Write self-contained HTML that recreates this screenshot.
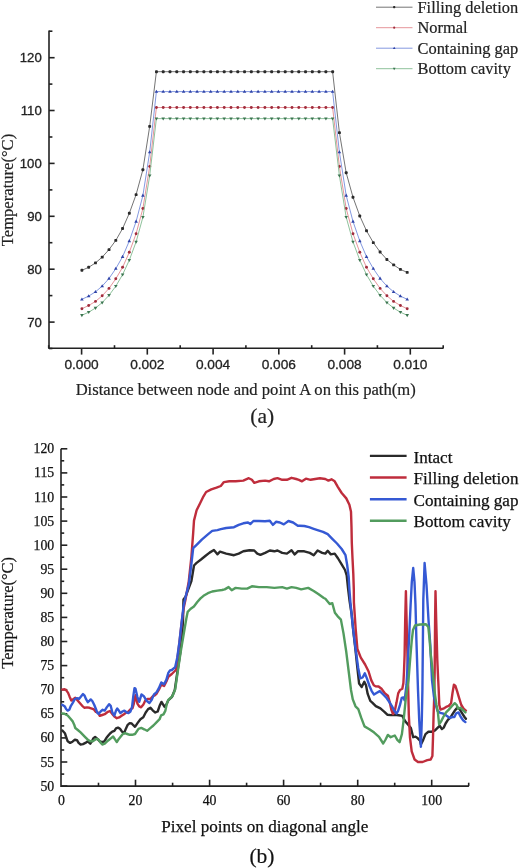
<!DOCTYPE html>
<html><head><meta charset="utf-8"><title>Temperature charts</title>
<style>
html,body{margin:0;padding:0;background:#fff;}
body{width:520px;height:868px;overflow:hidden;}
svg{display:block;}
</style></head>
<body>
<svg width="520" height="868" viewBox="0 0 520 868">
<rect width="520" height="868" fill="#fff"/>
<g stroke="#222" stroke-width="1.6" fill="none">
<path d="M49 30.5V348.2H443.5"/>
<path d="M49 322.1H54.6"/>
<path d="M49 269.2H54.6"/>
<path d="M49 216.3H54.6"/>
<path d="M49 163.4H54.6"/>
<path d="M49 110.5H54.6"/>
<path d="M49 57.7H54.6"/>
<path d="M49 348.5H52.4"/>
<path d="M49 295.6H52.4"/>
<path d="M49 242.7H52.4"/>
<path d="M49 189.9H52.4"/>
<path d="M49 137.0H52.4"/>
<path d="M49 84.1H52.4"/>
<path d="M49 31.2H52.4"/>
<path d="M81.6 348.2V354.6"/>
<path d="M147.3 348.2V354.6"/>
<path d="M213.1 348.2V354.6"/>
<path d="M278.8 348.2V354.6"/>
<path d="M344.6 348.2V354.6"/>
<path d="M410.3 348.2V354.6"/>
<path d="M48.7 348.2V345.2"/>
<path d="M114.5 348.2V345.2"/>
<path d="M180.2 348.2V345.2"/>
<path d="M245.9 348.2V345.2"/>
<path d="M311.7 348.2V345.2"/>
<path d="M377.4 348.2V345.2"/>
<path d="M443.2 348.2V345.2"/>
</g>
<g font-family="Liberation Sans, Arial, sans-serif" font-size="13.2" fill="#222" stroke="#222" stroke-width="0.3" text-anchor="end">
<text x="41.8" y="326.5">70</text>
<text x="41.8" y="273.6">80</text>
<text x="41.8" y="220.7">90</text>
<text x="41.8" y="167.8">100</text>
<text x="41.8" y="114.9">110</text>
<text x="41.8" y="62.1">120</text>
</g>
<g font-family="Liberation Sans, Arial, sans-serif" font-size="13.7" fill="#222" stroke="#222" stroke-width="0.3" text-anchor="middle">
<text x="81.6" y="369.4">0.000</text>
<text x="147.3" y="369.4">0.002</text>
<text x="213.1" y="369.4">0.004</text>
<text x="278.8" y="369.4">0.006</text>
<text x="344.6" y="369.4">0.008</text>
<text x="410.3" y="369.4">0.010</text>
</g>
<text x="245.7" y="394.6" font-family="Liberation Serif, Times New Roman, serif" font-size="16.6" fill="#222" stroke="#222" stroke-width="0.2" text-anchor="middle">Distance between node and point A on this path(m)</text>
<text x="262.2" y="423" font-family="Liberation Serif, Times New Roman, serif" font-size="21.5" fill="#222" stroke="#222" stroke-width="0.2" text-anchor="middle">(a)</text>
<text transform="translate(13,190) rotate(-90)" font-family="Liberation Serif, Times New Roman, serif" font-size="16.6" fill="#222" stroke="#222" stroke-width="0.2" text-anchor="middle">Temperature(°C)</text>
<polyline points="81.9,270.3 88.7,267.3 95.5,262.9 102.2,257.1 109.0,249.6 115.8,240.4 122.6,228.5 129.3,213.3 136.1,194.6 142.9,169.7 149.7,126.4 156.4,71.7 163.2,71.7 170.0,71.7 176.8,71.7 183.6,71.7 190.3,71.7 197.1,71.7 203.9,71.7 210.7,71.7 217.4,71.7 224.2,71.7 231.0,71.7 237.8,71.7 244.5,71.7 251.3,71.7 258.1,71.7 264.9,71.7 271.7,71.7 278.4,71.7 285.2,71.7 292.0,71.7 298.8,71.7 305.5,71.7 312.3,71.7 319.1,71.7 325.9,71.7 332.6,71.7 339.4,132.6 346.2,172.8 353.0,197.3 359.8,216.0 366.5,230.8 373.3,242.6 380.1,252.0 386.9,259.5 393.6,264.9 400.4,269.4 407.2,272.4" fill="none" stroke="#747474" stroke-width="1"/>
<rect x="80.45" y="268.85" width="2.9" height="2.9" rx="0.9" fill="#2a2a2a"/>
<rect x="87.23" y="265.85" width="2.9" height="2.9" rx="0.9" fill="#2a2a2a"/>
<rect x="94.00" y="261.45" width="2.9" height="2.9" rx="0.9" fill="#2a2a2a"/>
<rect x="100.78" y="255.65" width="2.9" height="2.9" rx="0.9" fill="#2a2a2a"/>
<rect x="107.56" y="248.15" width="2.9" height="2.9" rx="0.9" fill="#2a2a2a"/>
<rect x="114.33" y="238.95" width="2.9" height="2.9" rx="0.9" fill="#2a2a2a"/>
<rect x="121.11" y="227.05" width="2.9" height="2.9" rx="0.9" fill="#2a2a2a"/>
<rect x="127.89" y="211.85" width="2.9" height="2.9" rx="0.9" fill="#2a2a2a"/>
<rect x="134.67" y="193.15" width="2.9" height="2.9" rx="0.9" fill="#2a2a2a"/>
<rect x="141.44" y="168.25" width="2.9" height="2.9" rx="0.9" fill="#2a2a2a"/>
<rect x="148.22" y="124.95" width="2.9" height="2.9" rx="0.9" fill="#2a2a2a"/>
<rect x="155.00" y="70.25" width="2.9" height="2.9" rx="0.9" fill="#2a2a2a"/>
<rect x="161.77" y="70.25" width="2.9" height="2.9" rx="0.9" fill="#2a2a2a"/>
<rect x="168.55" y="70.25" width="2.9" height="2.9" rx="0.9" fill="#2a2a2a"/>
<rect x="175.33" y="70.25" width="2.9" height="2.9" rx="0.9" fill="#2a2a2a"/>
<rect x="182.11" y="70.25" width="2.9" height="2.9" rx="0.9" fill="#2a2a2a"/>
<rect x="188.88" y="70.25" width="2.9" height="2.9" rx="0.9" fill="#2a2a2a"/>
<rect x="195.66" y="70.25" width="2.9" height="2.9" rx="0.9" fill="#2a2a2a"/>
<rect x="202.44" y="70.25" width="2.9" height="2.9" rx="0.9" fill="#2a2a2a"/>
<rect x="209.21" y="70.25" width="2.9" height="2.9" rx="0.9" fill="#2a2a2a"/>
<rect x="215.99" y="70.25" width="2.9" height="2.9" rx="0.9" fill="#2a2a2a"/>
<rect x="222.77" y="70.25" width="2.9" height="2.9" rx="0.9" fill="#2a2a2a"/>
<rect x="229.54" y="70.25" width="2.9" height="2.9" rx="0.9" fill="#2a2a2a"/>
<rect x="236.32" y="70.25" width="2.9" height="2.9" rx="0.9" fill="#2a2a2a"/>
<rect x="243.10" y="70.25" width="2.9" height="2.9" rx="0.9" fill="#2a2a2a"/>
<rect x="249.88" y="70.25" width="2.9" height="2.9" rx="0.9" fill="#2a2a2a"/>
<rect x="256.65" y="70.25" width="2.9" height="2.9" rx="0.9" fill="#2a2a2a"/>
<rect x="263.43" y="70.25" width="2.9" height="2.9" rx="0.9" fill="#2a2a2a"/>
<rect x="270.21" y="70.25" width="2.9" height="2.9" rx="0.9" fill="#2a2a2a"/>
<rect x="276.98" y="70.25" width="2.9" height="2.9" rx="0.9" fill="#2a2a2a"/>
<rect x="283.76" y="70.25" width="2.9" height="2.9" rx="0.9" fill="#2a2a2a"/>
<rect x="290.54" y="70.25" width="2.9" height="2.9" rx="0.9" fill="#2a2a2a"/>
<rect x="297.31" y="70.25" width="2.9" height="2.9" rx="0.9" fill="#2a2a2a"/>
<rect x="304.09" y="70.25" width="2.9" height="2.9" rx="0.9" fill="#2a2a2a"/>
<rect x="310.87" y="70.25" width="2.9" height="2.9" rx="0.9" fill="#2a2a2a"/>
<rect x="317.65" y="70.25" width="2.9" height="2.9" rx="0.9" fill="#2a2a2a"/>
<rect x="324.42" y="70.25" width="2.9" height="2.9" rx="0.9" fill="#2a2a2a"/>
<rect x="331.20" y="70.25" width="2.9" height="2.9" rx="0.9" fill="#2a2a2a"/>
<rect x="337.98" y="131.15" width="2.9" height="2.9" rx="0.9" fill="#2a2a2a"/>
<rect x="344.75" y="171.35" width="2.9" height="2.9" rx="0.9" fill="#2a2a2a"/>
<rect x="351.53" y="195.85" width="2.9" height="2.9" rx="0.9" fill="#2a2a2a"/>
<rect x="358.31" y="214.55" width="2.9" height="2.9" rx="0.9" fill="#2a2a2a"/>
<rect x="365.08" y="229.35" width="2.9" height="2.9" rx="0.9" fill="#2a2a2a"/>
<rect x="371.86" y="241.15" width="2.9" height="2.9" rx="0.9" fill="#2a2a2a"/>
<rect x="378.64" y="250.55" width="2.9" height="2.9" rx="0.9" fill="#2a2a2a"/>
<rect x="385.42" y="258.05" width="2.9" height="2.9" rx="0.9" fill="#2a2a2a"/>
<rect x="392.19" y="263.45" width="2.9" height="2.9" rx="0.9" fill="#2a2a2a"/>
<rect x="398.97" y="267.95" width="2.9" height="2.9" rx="0.9" fill="#2a2a2a"/>
<rect x="405.75" y="270.95" width="2.9" height="2.9" rx="0.9" fill="#2a2a2a"/>
<polyline points="81.9,308.7 88.7,305.5 95.5,301.4 102.2,295.8 109.0,288.4 115.8,278.8 122.6,267.3 129.3,252.3 136.1,233.7 142.9,208.5 149.7,166.4 156.4,107.5 163.2,107.5 170.0,107.5 176.8,107.5 183.6,107.5 190.3,107.5 197.1,107.5 203.9,107.5 210.7,107.5 217.4,107.5 224.2,107.5 231.0,107.5 237.8,107.5 244.5,107.5 251.3,107.5 258.1,107.5 264.9,107.5 271.7,107.5 278.4,107.5 285.2,107.5 292.0,107.5 298.8,107.5 305.5,107.5 312.3,107.5 319.1,107.5 325.9,107.5 332.6,107.5 339.4,166.4 346.2,208.5 353.0,233.7 359.8,252.3 366.5,267.3 373.3,278.8 380.1,288.4 386.9,295.8 393.6,301.4 400.4,305.5 407.2,308.7" fill="none" stroke="#e6959b" stroke-width="1"/>
<circle cx="81.9" cy="308.7" r="1.45" fill="#a02c3c"/>
<circle cx="88.7" cy="305.5" r="1.45" fill="#a02c3c"/>
<circle cx="95.5" cy="301.4" r="1.45" fill="#a02c3c"/>
<circle cx="102.2" cy="295.8" r="1.45" fill="#a02c3c"/>
<circle cx="109.0" cy="288.4" r="1.45" fill="#a02c3c"/>
<circle cx="115.8" cy="278.8" r="1.45" fill="#a02c3c"/>
<circle cx="122.6" cy="267.3" r="1.45" fill="#a02c3c"/>
<circle cx="129.3" cy="252.3" r="1.45" fill="#a02c3c"/>
<circle cx="136.1" cy="233.7" r="1.45" fill="#a02c3c"/>
<circle cx="142.9" cy="208.5" r="1.45" fill="#a02c3c"/>
<circle cx="149.7" cy="166.4" r="1.45" fill="#a02c3c"/>
<circle cx="156.4" cy="107.5" r="1.45" fill="#a02c3c"/>
<circle cx="163.2" cy="107.5" r="1.45" fill="#a02c3c"/>
<circle cx="170.0" cy="107.5" r="1.45" fill="#a02c3c"/>
<circle cx="176.8" cy="107.5" r="1.45" fill="#a02c3c"/>
<circle cx="183.6" cy="107.5" r="1.45" fill="#a02c3c"/>
<circle cx="190.3" cy="107.5" r="1.45" fill="#a02c3c"/>
<circle cx="197.1" cy="107.5" r="1.45" fill="#a02c3c"/>
<circle cx="203.9" cy="107.5" r="1.45" fill="#a02c3c"/>
<circle cx="210.7" cy="107.5" r="1.45" fill="#a02c3c"/>
<circle cx="217.4" cy="107.5" r="1.45" fill="#a02c3c"/>
<circle cx="224.2" cy="107.5" r="1.45" fill="#a02c3c"/>
<circle cx="231.0" cy="107.5" r="1.45" fill="#a02c3c"/>
<circle cx="237.8" cy="107.5" r="1.45" fill="#a02c3c"/>
<circle cx="244.5" cy="107.5" r="1.45" fill="#a02c3c"/>
<circle cx="251.3" cy="107.5" r="1.45" fill="#a02c3c"/>
<circle cx="258.1" cy="107.5" r="1.45" fill="#a02c3c"/>
<circle cx="264.9" cy="107.5" r="1.45" fill="#a02c3c"/>
<circle cx="271.7" cy="107.5" r="1.45" fill="#a02c3c"/>
<circle cx="278.4" cy="107.5" r="1.45" fill="#a02c3c"/>
<circle cx="285.2" cy="107.5" r="1.45" fill="#a02c3c"/>
<circle cx="292.0" cy="107.5" r="1.45" fill="#a02c3c"/>
<circle cx="298.8" cy="107.5" r="1.45" fill="#a02c3c"/>
<circle cx="305.5" cy="107.5" r="1.45" fill="#a02c3c"/>
<circle cx="312.3" cy="107.5" r="1.45" fill="#a02c3c"/>
<circle cx="319.1" cy="107.5" r="1.45" fill="#a02c3c"/>
<circle cx="325.9" cy="107.5" r="1.45" fill="#a02c3c"/>
<circle cx="332.6" cy="107.5" r="1.45" fill="#a02c3c"/>
<circle cx="339.4" cy="166.4" r="1.45" fill="#a02c3c"/>
<circle cx="346.2" cy="208.5" r="1.45" fill="#a02c3c"/>
<circle cx="353.0" cy="233.7" r="1.45" fill="#a02c3c"/>
<circle cx="359.8" cy="252.3" r="1.45" fill="#a02c3c"/>
<circle cx="366.5" cy="267.3" r="1.45" fill="#a02c3c"/>
<circle cx="373.3" cy="278.8" r="1.45" fill="#a02c3c"/>
<circle cx="380.1" cy="288.4" r="1.45" fill="#a02c3c"/>
<circle cx="386.9" cy="295.8" r="1.45" fill="#a02c3c"/>
<circle cx="393.6" cy="301.4" r="1.45" fill="#a02c3c"/>
<circle cx="400.4" cy="305.5" r="1.45" fill="#a02c3c"/>
<circle cx="407.2" cy="308.7" r="1.45" fill="#a02c3c"/>
<polyline points="81.9,299.3 88.7,296.1 95.5,291.8 102.2,286.1 109.0,278.5 115.8,268.6 122.6,256.7 129.3,241.0 136.1,221.5 142.9,195.5 149.7,152.1 156.4,91.6 163.2,91.6 170.0,91.6 176.8,91.6 183.6,91.6 190.3,91.6 197.1,91.6 203.9,91.6 210.7,91.6 217.4,91.6 224.2,91.6 231.0,91.6 237.8,91.6 244.5,91.6 251.3,91.6 258.1,91.6 264.9,91.6 271.7,91.6 278.4,91.6 285.2,91.6 292.0,91.6 298.8,91.6 305.5,91.6 312.3,91.6 319.1,91.6 325.9,91.6 332.6,91.6 339.4,152.1 346.2,195.5 353.0,221.5 359.8,241.0 366.5,256.7 373.3,268.6 380.1,278.5 386.9,286.1 393.6,291.8 400.4,296.1 407.2,299.3" fill="none" stroke="#8499e0" stroke-width="1"/>
<path d="M81.9 297.4L83.7 300.5L80.1 300.5Z" fill="#3044a8"/>
<path d="M88.7 294.2L90.5 297.3L86.9 297.3Z" fill="#3044a8"/>
<path d="M95.5 289.9L97.3 293.0L93.7 293.0Z" fill="#3044a8"/>
<path d="M102.2 284.2L104.0 287.3L100.4 287.3Z" fill="#3044a8"/>
<path d="M109.0 276.6L110.8 279.7L107.2 279.7Z" fill="#3044a8"/>
<path d="M115.8 266.7L117.6 269.8L114.0 269.8Z" fill="#3044a8"/>
<path d="M122.6 254.8L124.4 257.9L120.8 257.9Z" fill="#3044a8"/>
<path d="M129.3 239.1L131.1 242.2L127.5 242.2Z" fill="#3044a8"/>
<path d="M136.1 219.6L137.9 222.7L134.3 222.7Z" fill="#3044a8"/>
<path d="M142.9 193.6L144.7 196.7L141.1 196.7Z" fill="#3044a8"/>
<path d="M149.7 150.2L151.5 153.3L147.9 153.3Z" fill="#3044a8"/>
<path d="M156.4 89.7L158.2 92.8L154.6 92.8Z" fill="#3044a8"/>
<path d="M163.2 89.7L165.0 92.8L161.4 92.8Z" fill="#3044a8"/>
<path d="M170.0 89.7L171.8 92.8L168.2 92.8Z" fill="#3044a8"/>
<path d="M176.8 89.7L178.6 92.8L175.0 92.8Z" fill="#3044a8"/>
<path d="M183.6 89.7L185.4 92.8L181.8 92.8Z" fill="#3044a8"/>
<path d="M190.3 89.7L192.1 92.8L188.5 92.8Z" fill="#3044a8"/>
<path d="M197.1 89.7L198.9 92.8L195.3 92.8Z" fill="#3044a8"/>
<path d="M203.9 89.7L205.7 92.8L202.1 92.8Z" fill="#3044a8"/>
<path d="M210.7 89.7L212.5 92.8L208.9 92.8Z" fill="#3044a8"/>
<path d="M217.4 89.7L219.2 92.8L215.6 92.8Z" fill="#3044a8"/>
<path d="M224.2 89.7L226.0 92.8L222.4 92.8Z" fill="#3044a8"/>
<path d="M231.0 89.7L232.8 92.8L229.2 92.8Z" fill="#3044a8"/>
<path d="M237.8 89.7L239.6 92.8L236.0 92.8Z" fill="#3044a8"/>
<path d="M244.5 89.7L246.3 92.8L242.7 92.8Z" fill="#3044a8"/>
<path d="M251.3 89.7L253.1 92.8L249.5 92.8Z" fill="#3044a8"/>
<path d="M258.1 89.7L259.9 92.8L256.3 92.8Z" fill="#3044a8"/>
<path d="M264.9 89.7L266.7 92.8L263.1 92.8Z" fill="#3044a8"/>
<path d="M271.7 89.7L273.5 92.8L269.9 92.8Z" fill="#3044a8"/>
<path d="M278.4 89.7L280.2 92.8L276.6 92.8Z" fill="#3044a8"/>
<path d="M285.2 89.7L287.0 92.8L283.4 92.8Z" fill="#3044a8"/>
<path d="M292.0 89.7L293.8 92.8L290.2 92.8Z" fill="#3044a8"/>
<path d="M298.8 89.7L300.6 92.8L297.0 92.8Z" fill="#3044a8"/>
<path d="M305.5 89.7L307.3 92.8L303.7 92.8Z" fill="#3044a8"/>
<path d="M312.3 89.7L314.1 92.8L310.5 92.8Z" fill="#3044a8"/>
<path d="M319.1 89.7L320.9 92.8L317.3 92.8Z" fill="#3044a8"/>
<path d="M325.9 89.7L327.7 92.8L324.1 92.8Z" fill="#3044a8"/>
<path d="M332.6 89.7L334.4 92.8L330.8 92.8Z" fill="#3044a8"/>
<path d="M339.4 150.2L341.2 153.3L337.6 153.3Z" fill="#3044a8"/>
<path d="M346.2 193.6L348.0 196.7L344.4 196.7Z" fill="#3044a8"/>
<path d="M353.0 219.6L354.8 222.7L351.2 222.7Z" fill="#3044a8"/>
<path d="M359.8 239.1L361.6 242.2L358.0 242.2Z" fill="#3044a8"/>
<path d="M366.5 254.8L368.3 257.9L364.7 257.9Z" fill="#3044a8"/>
<path d="M373.3 266.7L375.1 269.8L371.5 269.8Z" fill="#3044a8"/>
<path d="M380.1 276.6L381.9 279.7L378.3 279.7Z" fill="#3044a8"/>
<path d="M386.9 284.2L388.7 287.3L385.1 287.3Z" fill="#3044a8"/>
<path d="M393.6 289.9L395.4 293.0L391.8 293.0Z" fill="#3044a8"/>
<path d="M400.4 294.2L402.2 297.3L398.6 297.3Z" fill="#3044a8"/>
<path d="M407.2 297.4L409.0 300.5L405.4 300.5Z" fill="#3044a8"/>
<polyline points="81.9,315.3 88.7,312.2 95.5,308.0 102.2,302.6 109.0,295.3 115.8,286.2 122.6,274.6 129.3,260.2 136.1,241.9 142.9,217.2 149.7,175.7 156.4,118.6 163.2,118.6 170.0,118.6 176.8,118.6 183.6,118.6 190.3,118.6 197.1,118.6 203.9,118.6 210.7,118.6 217.4,118.6 224.2,118.6 231.0,118.6 237.8,118.6 244.5,118.6 251.3,118.6 258.1,118.6 264.9,118.6 271.7,118.6 278.4,118.6 285.2,118.6 292.0,118.6 298.8,118.6 305.5,118.6 312.3,118.6 319.1,118.6 325.9,118.6 332.6,118.6 339.4,175.7 346.2,217.2 353.0,241.9 359.8,260.2 366.5,274.6 373.3,286.2 380.1,295.3 386.9,302.6 393.6,308.0 400.4,312.2 407.2,315.3" fill="none" stroke="#8fc29c" stroke-width="1"/>
<path d="M81.9 317.2L83.7 314.1L80.1 314.1Z" fill="#3b7550"/>
<path d="M88.7 314.1L90.5 311.0L86.9 311.0Z" fill="#3b7550"/>
<path d="M95.5 309.9L97.3 306.8L93.7 306.8Z" fill="#3b7550"/>
<path d="M102.2 304.5L104.0 301.4L100.4 301.4Z" fill="#3b7550"/>
<path d="M109.0 297.2L110.8 294.1L107.2 294.1Z" fill="#3b7550"/>
<path d="M115.8 288.1L117.6 285.0L114.0 285.0Z" fill="#3b7550"/>
<path d="M122.6 276.5L124.4 273.4L120.8 273.4Z" fill="#3b7550"/>
<path d="M129.3 262.1L131.1 259.0L127.5 259.0Z" fill="#3b7550"/>
<path d="M136.1 243.8L137.9 240.7L134.3 240.7Z" fill="#3b7550"/>
<path d="M142.9 219.1L144.7 216.0L141.1 216.0Z" fill="#3b7550"/>
<path d="M149.7 177.6L151.5 174.5L147.9 174.5Z" fill="#3b7550"/>
<path d="M156.4 120.5L158.2 117.4L154.6 117.4Z" fill="#3b7550"/>
<path d="M163.2 120.5L165.0 117.4L161.4 117.4Z" fill="#3b7550"/>
<path d="M170.0 120.5L171.8 117.4L168.2 117.4Z" fill="#3b7550"/>
<path d="M176.8 120.5L178.6 117.4L175.0 117.4Z" fill="#3b7550"/>
<path d="M183.6 120.5L185.4 117.4L181.8 117.4Z" fill="#3b7550"/>
<path d="M190.3 120.5L192.1 117.4L188.5 117.4Z" fill="#3b7550"/>
<path d="M197.1 120.5L198.9 117.4L195.3 117.4Z" fill="#3b7550"/>
<path d="M203.9 120.5L205.7 117.4L202.1 117.4Z" fill="#3b7550"/>
<path d="M210.7 120.5L212.5 117.4L208.9 117.4Z" fill="#3b7550"/>
<path d="M217.4 120.5L219.2 117.4L215.6 117.4Z" fill="#3b7550"/>
<path d="M224.2 120.5L226.0 117.4L222.4 117.4Z" fill="#3b7550"/>
<path d="M231.0 120.5L232.8 117.4L229.2 117.4Z" fill="#3b7550"/>
<path d="M237.8 120.5L239.6 117.4L236.0 117.4Z" fill="#3b7550"/>
<path d="M244.5 120.5L246.3 117.4L242.7 117.4Z" fill="#3b7550"/>
<path d="M251.3 120.5L253.1 117.4L249.5 117.4Z" fill="#3b7550"/>
<path d="M258.1 120.5L259.9 117.4L256.3 117.4Z" fill="#3b7550"/>
<path d="M264.9 120.5L266.7 117.4L263.1 117.4Z" fill="#3b7550"/>
<path d="M271.7 120.5L273.5 117.4L269.9 117.4Z" fill="#3b7550"/>
<path d="M278.4 120.5L280.2 117.4L276.6 117.4Z" fill="#3b7550"/>
<path d="M285.2 120.5L287.0 117.4L283.4 117.4Z" fill="#3b7550"/>
<path d="M292.0 120.5L293.8 117.4L290.2 117.4Z" fill="#3b7550"/>
<path d="M298.8 120.5L300.6 117.4L297.0 117.4Z" fill="#3b7550"/>
<path d="M305.5 120.5L307.3 117.4L303.7 117.4Z" fill="#3b7550"/>
<path d="M312.3 120.5L314.1 117.4L310.5 117.4Z" fill="#3b7550"/>
<path d="M319.1 120.5L320.9 117.4L317.3 117.4Z" fill="#3b7550"/>
<path d="M325.9 120.5L327.7 117.4L324.1 117.4Z" fill="#3b7550"/>
<path d="M332.6 120.5L334.4 117.4L330.8 117.4Z" fill="#3b7550"/>
<path d="M339.4 177.6L341.2 174.5L337.6 174.5Z" fill="#3b7550"/>
<path d="M346.2 219.1L348.0 216.0L344.4 216.0Z" fill="#3b7550"/>
<path d="M353.0 243.8L354.8 240.7L351.2 240.7Z" fill="#3b7550"/>
<path d="M359.8 262.1L361.6 259.0L358.0 259.0Z" fill="#3b7550"/>
<path d="M366.5 276.5L368.3 273.4L364.7 273.4Z" fill="#3b7550"/>
<path d="M373.3 288.1L375.1 285.0L371.5 285.0Z" fill="#3b7550"/>
<path d="M380.1 297.2L381.9 294.1L378.3 294.1Z" fill="#3b7550"/>
<path d="M386.9 304.5L388.7 301.4L385.1 301.4Z" fill="#3b7550"/>
<path d="M393.6 309.9L395.4 306.8L391.8 306.8Z" fill="#3b7550"/>
<path d="M400.4 314.1L402.2 311.0L398.6 311.0Z" fill="#3b7550"/>
<path d="M407.2 317.2L409.0 314.1L405.4 314.1Z" fill="#3b7550"/>
<path d="M376 7.2H412.5" stroke="#747474" stroke-width="1"/>
<g transform="translate(394.2,7.2) scale(0.75) translate(-394.2,-7.2)"><rect x="392.75" y="5.75" width="2.9" height="2.9" rx="0.9" fill="#2a2a2a"/></g>
<text x="417.5" y="12.5" font-family="Liberation Serif, Times New Roman, serif" font-size="16.4" fill="#222" stroke="#222" stroke-width="0.2">Filling deletion</text>
<path d="M376 27.7H412.5" stroke="#e6959b" stroke-width="1"/>
<g transform="translate(394.2,27.7) scale(0.75) translate(-394.2,-27.7)"><circle cx="394.2" cy="27.7" r="1.45" fill="#a02c3c"/></g>
<text x="417.5" y="33.0" font-family="Liberation Serif, Times New Roman, serif" font-size="16.4" fill="#222" stroke="#222" stroke-width="0.2">Normal</text>
<path d="M376 48.2H412.5" stroke="#8499e0" stroke-width="1"/>
<g transform="translate(394.2,48.2) scale(0.75) translate(-394.2,-48.2)"><path d="M394.2 46.3L396.0 49.4L392.4 49.4Z" fill="#3044a8"/></g>
<text x="417.5" y="53.5" font-family="Liberation Serif, Times New Roman, serif" font-size="16.4" fill="#222" stroke="#222" stroke-width="0.2">Containing gap</text>
<path d="M376 68.7H412.5" stroke="#8fc29c" stroke-width="1"/>
<g transform="translate(394.2,68.7) scale(0.75) translate(-394.2,-68.7)"><path d="M394.2 70.6L396.0 67.5L392.4 67.5Z" fill="#3b7550"/></g>
<text x="417.5" y="74.0" font-family="Liberation Serif, Times New Roman, serif" font-size="16.4" fill="#222" stroke="#222" stroke-width="0.2">Bottom cavity</text>
<g stroke="#222" stroke-width="1.6" fill="none">
<path d="M61 448.8V786.1H468.9"/>
<path d="M61 786.1H67.3"/>
<path d="M61 762.0H67.3"/>
<path d="M61 737.9H67.3"/>
<path d="M61 713.8H67.3"/>
<path d="M61 689.7H67.3"/>
<path d="M61 665.6H67.3"/>
<path d="M61 641.5H67.3"/>
<path d="M61 617.4H67.3"/>
<path d="M61 593.3H67.3"/>
<path d="M61 569.2H67.3"/>
<path d="M61 545.2H67.3"/>
<path d="M61 521.1H67.3"/>
<path d="M61 497.0H67.3"/>
<path d="M61 472.9H67.3"/>
<path d="M61 448.8H67.3"/>
<path d="M61 774.1H64.2"/>
<path d="M61 750.0H64.2"/>
<path d="M61 725.9H64.2"/>
<path d="M61 701.8H64.2"/>
<path d="M61 677.7H64.2"/>
<path d="M61 653.6H64.2"/>
<path d="M61 629.5H64.2"/>
<path d="M61 605.4H64.2"/>
<path d="M61 581.3H64.2"/>
<path d="M61 557.2H64.2"/>
<path d="M61 533.1H64.2"/>
<path d="M61 509.0H64.2"/>
<path d="M61 484.9H64.2"/>
<path d="M61 460.8H64.2"/>
<path d="M135.5 786.1V779.7"/>
<path d="M209.6 786.1V779.7"/>
<path d="M283.6 786.1V779.7"/>
<path d="M357.7 786.1V779.7"/>
<path d="M431.7 786.1V779.7"/>
<path d="M98.5 786.1V782.7"/>
<path d="M172.6 786.1V782.7"/>
<path d="M246.6 786.1V782.7"/>
<path d="M320.6 786.1V782.7"/>
<path d="M394.7 786.1V782.7"/>
<path d="M468.7 786.1V782.7"/>
</g>
<g font-family="Liberation Serif, Times New Roman, serif" font-size="13.8" fill="#111" stroke="#111" stroke-width="0.25" text-anchor="end">
<text x="54.2" y="790.6">50</text>
<text x="54.2" y="766.5">55</text>
<text x="54.2" y="742.4">60</text>
<text x="54.2" y="718.3">65</text>
<text x="54.2" y="694.2">70</text>
<text x="54.2" y="670.1">75</text>
<text x="54.2" y="646.0">80</text>
<text x="54.2" y="621.9">85</text>
<text x="54.2" y="597.8">90</text>
<text x="54.2" y="573.7">95</text>
<text x="54.2" y="549.7">100</text>
<text x="54.2" y="525.6">105</text>
<text x="54.2" y="501.5">110</text>
<text x="54.2" y="477.4">115</text>
<text x="54.2" y="453.3">120</text>
</g>
<g font-family="Liberation Serif, Times New Roman, serif" font-size="13.8" fill="#111" stroke="#111" stroke-width="0.25" text-anchor="middle">
<text x="61.5" y="804.5">0</text>
<text x="135.5" y="804.5">20</text>
<text x="209.6" y="804.5">40</text>
<text x="283.6" y="804.5">60</text>
<text x="357.7" y="804.5">80</text>
<text x="431.7" y="804.5">100</text>
</g>
<text x="264.8" y="832.4" font-family="Liberation Serif, Times New Roman, serif" font-size="17.1" fill="#111" stroke="#111" stroke-width="0.25" text-anchor="middle">Pixel points on diagonal angle</text>
<text x="262" y="862.6" font-family="Liberation Serif, Times New Roman, serif" font-size="21.5" fill="#111" stroke="#111" stroke-width="0.2" text-anchor="middle">(b)</text>
<text transform="translate(13,612.8) rotate(-90)" font-family="Liberation Serif, Times New Roman, serif" font-size="16.5" fill="#111" stroke="#111" stroke-width="0.2" text-anchor="middle">Temperature(°C)</text>
<polyline points="62.4,730.5 64.9,733.2 65.7,735.6 66.5,738.1 67.7,741.3 70.1,742.9 72.5,741.7 74.9,739.7 77.0,740.1 78.6,742.9 80.6,744.5 83.0,744.1 85.4,742.9 87.8,741.3 90.3,743.7 91.9,741.3 93.5,738.1 95.1,736.9 97.4,738.9 99.8,741.3 102.3,742.1 104.3,741.3 106.3,738.1 108.3,735.6 110.3,733.2 112.3,731.6 114.4,730.8 116.0,728.4 118.0,727.6 120.0,728.8 122.0,731.6 124.0,733.2 126.0,728.4 127.7,724.8 129.7,723.1 131.7,723.5 133.3,725.2 135.0,726.8 137.5,723.1 140.4,719.2 143.3,717.3 145.7,712.5 148.1,709.1 150.5,707.7 152.9,710.6 155.3,712.5 157.7,711.5 159.6,705.8 161.5,701.9 164.4,706.7 166.4,704.5 168.2,700.5 172.0,696.8 174.8,690.0 177.6,670.5 180.3,652.5 182.1,636.0 183.0,620.0 183.3,607.7 183.5,599.4 185.6,596.6 188.0,590.0 191.4,581.1 194.0,565.5 196.6,562.9 201.0,559.5 205.3,556.0 209.6,552.6 213.9,550.0 217.4,554.3 220.0,551.7 226.2,553.6 234.0,555.2 238.7,553.6 243.3,551.3 249.5,550.2 254.2,550.5 257.3,553.6 260.4,554.9 265.1,552.9 269.8,550.5 274.4,551.3 277.5,550.5 282.2,552.9 286.9,553.6 291.5,550.2 294.7,554.4 297.8,551.3 304.3,551.3 309.8,552.9 313.7,555.2 317.6,550.5 322.2,552.9 325.3,553.6 327.7,550.8 330.8,554.4 334.7,553.6 338.1,558.5 341.5,564.2 345.0,570.0 346.7,575.5 348.0,588.0 349.6,601.0 351.6,614.0 353.4,632.0 355.4,649.0 357.4,668.0 359.1,683.6 361.7,687.0 364.3,681.8 366.0,685.3 367.7,693.9 370.3,700.9 372.3,702.6 375.8,706.1 380.4,708.4 384.4,711.8 387.3,714.7 390.7,715.1 394.8,714.7 398.8,715.3 402.3,715.9 405.1,721.1 408.0,724.5 410.9,728.0 413.2,737.2 415.5,736.6 417.8,738.3 420.0,740.6 420.9,744.5 423.2,739.9 425.5,734.1 428.4,731.8 431.9,731.8 435.0,730.4 437.3,728.1 439.6,725.8 441.9,729.0 443.8,727.6 445.6,723.5 447.9,719.8 450.2,717.9 452.5,714.2 454.8,710.6 457.6,707.3 459.9,709.6 462.2,713.3 464.5,717.0 465.9,718.8" fill="none" stroke="#2a2a2a" stroke-width="2.4" stroke-linejoin="round" stroke-linecap="round"/>
<polyline points="62.2,689.6 64.5,689.2 66.1,690.1 68.1,692.9 69.7,696.9 71.3,700.6 72.9,699.4 75.3,697.7 77.4,700.2 79.8,703.0 82.2,705.8 84.6,707.8 87.0,707.4 89.5,707.8 91.9,708.6 93.9,709.4 95.9,711.9 98.0,712.6 99.8,715.8 102.3,715.0 104.7,714.2 107.9,711.8 109.9,711.0 111.9,713.4 114.4,716.6 116.8,718.2 119.2,717.4 121.6,715.8 124.0,714.2 126.0,712.6 128.1,711.8 130.5,709.3 132.5,708.2 133.7,704.2 135.5,695.3 137.4,703.6 139.2,706.4 141.1,707.3 143.4,704.5 145.2,700.8 147.5,699.0 150.3,699.0 153.0,696.2 154.5,695.5 156.7,693.5 159.0,689.5 161.3,684.5 164.1,686.0 166.4,681.5 168.3,676.8 171.8,674.0 175.9,670.0 177.5,658.0 179.4,643.0 181.4,625.0 183.5,609.0 185.4,600.0 188.8,581.1 191.4,556.9 193.2,532.7 194.0,520.6 196.6,510.2 200.1,503.3 203.5,496.3 206.1,492.0 211.3,489.4 216.5,487.7 220.8,486.0 223.9,482.1 229.3,481.3 235.6,481.3 243.3,480.6 248.8,478.2 251.9,479.8 254.2,482.9 258.9,481.3 265.1,480.6 269.0,481.3 273.7,479.0 277.5,478.2 282.2,479.8 286.9,479.8 291.5,477.8 296.2,479.0 298.9,479.8 302.0,481.3 305.9,478.7 310.6,479.8 315.2,479.0 319.9,478.2 325.3,479.0 328.4,480.6 331.5,479.3 334.7,481.3 337.8,486.8 341.7,493.0 346.3,498.4 349.4,504.7 351.0,511.7 351.5,527.2 351.8,542.8 352.5,558.3 353.3,573.9 353.8,589.4 353.9,602.3 355.6,628.2 357.4,649.0 360.8,657.6 365.1,664.5 368.6,671.5 371.2,680.1 373.8,685.3 375.5,686.2 378.6,686.5 381.5,688.8 385.0,693.4 387.9,695.7 389.6,701.5 391.3,709.5 393.0,714.1 394.8,710.7 396.5,702.6 398.2,693.4 400.0,690.0 402.3,688.8 403.4,683.0 404.0,671.5 404.6,655.0 405.2,620.0 405.9,591.2 406.6,620.0 407.3,650.0 408.0,680.0 408.8,714.6 410.0,737.6 411.7,751.4 414.6,759.5 418.0,762.0 422.6,762.0 427.3,760.1 430.7,759.5 432.4,756.0 433.0,737.6 433.6,714.6 434.2,697.3 434.7,670.0 435.1,620.0 435.5,591.2 436.2,620.0 437.3,660.0 438.2,680.0 438.7,690.0 439.3,705.0 440.5,709.6 443.3,708.7 446.1,706.9 448.8,705.9 451.1,703.2 452.5,693.0 453.9,684.7 455.3,685.7 457.1,691.2 459.0,697.6 461.3,705.0 463.6,708.7 465.9,710.6" fill="none" stroke="#bf2d3c" stroke-width="2.4" stroke-linejoin="round" stroke-linecap="round"/>
<polyline points="62.2,704.8 64.9,706.6 66.1,709.0 67.7,710.6 69.3,709.8 70.9,705.8 72.9,702.6 74.9,699.0 77.0,698.1 79.0,699.0 81.0,696.5 83.0,694.1 84.6,695.7 86.2,699.4 87.8,702.2 89.5,700.6 90.7,699.4 92.3,701.0 94.3,705.0 95.9,709.0 97.5,713.1 98.6,713.9 100.6,711.5 102.7,709.8 104.7,710.6 106.7,707.4 109.1,704.2 110.7,705.8 112.3,712.3 114.4,715.5 116.0,710.6 117.2,708.6 118.8,710.6 120.4,713.1 122.4,711.5 124.4,710.6 126.5,712.3 128.5,713.1 130.5,711.5 132.1,706.6 133.3,696.1 134.5,688.1 135.5,688.8 137.4,697.1 139.2,701.8 141.5,694.4 143.8,696.2 146.6,700.8 149.4,703.1 151.7,699.9 154.0,694.4 156.7,692.1 159.0,687.9 161.3,682.4 164.1,684.2 166.4,679.6 168.2,673.2 170.0,670.4 171.8,670.0 175.2,667.1 177.3,657.5 179.4,642.2 181.4,624.3 183.5,606.3 186.3,594.0 188.8,584.6 191.4,563.8 193.2,548.2 196.6,544.8 201.8,539.6 207.9,534.4 212.2,530.9 217.4,530.1 220.8,529.2 226.2,528.0 234.0,527.2 238.7,524.9 243.3,523.3 248.0,522.5 250.3,524.1 253.4,521.0 258.9,521.0 265.1,521.3 269.8,520.7 272.9,524.9 276.0,521.8 279.9,522.5 283.8,524.4 288.4,521.0 293.1,522.5 297.8,525.7 299.7,525.7 304.3,526.0 309.0,527.2 313.7,528.8 318.3,530.3 323.0,531.9 327.7,534.2 332.3,538.9 337.0,543.5 341.7,549.0 345.5,555.2 347.1,564.5 348.7,577.0 349.4,589.4 350.4,602.3 353.0,628.2 355.6,649.0 358.2,668.0 360.3,678.4 362.6,677.5 364.8,673.2 366.9,678.4 369.5,686.0 371.7,691.1 374.0,694.6 376.9,692.8 379.8,691.1 382.7,694.0 386.1,697.4 389.0,701.5 391.9,706.1 394.2,710.7 396.5,713.6 398.2,710.7 400.0,704.9 401.7,698.0 403.4,697.4 404.6,700.3 406.5,685.0 409.0,640.0 410.6,605.0 411.8,582.0 413.2,568.0 414.5,582.0 415.5,605.0 416.4,640.0 418.0,690.0 419.2,720.0 420.9,746.8 421.8,720.0 422.4,690.0 422.9,640.0 423.3,600.0 424.6,563.0 426.5,585.0 428.5,620.0 430.3,645.0 432.0,680.0 434.0,697.0 436.0,706.0 437.6,711.1 440.1,712.8 442.4,713.3 444.7,714.2 447.0,716.1 449.7,717.9 452.5,717.0 454.4,717.0 456.2,713.3 458.5,712.4 460.8,717.0 463.1,720.2 465.4,722.1" fill="none" stroke="#3559d4" stroke-width="2.4" stroke-linejoin="round" stroke-linecap="round"/>
<polyline points="62.2,713.4 64.5,713.8 66.1,714.7 67.7,715.5 70.1,718.3 72.5,721.1 74.1,724.4 75.3,728.0 77.8,730.0 80.6,732.4 83.0,734.8 85.4,737.3 87.8,739.7 90.3,741.3 92.7,741.3 95.1,739.7 96.6,738.9 98.6,739.7 100.2,742.1 102.3,744.5 104.7,743.7 107.1,741.3 109.1,739.7 111.1,738.1 113.1,736.5 115.2,739.7 116.8,742.1 118.8,738.9 120.8,736.5 122.8,734.0 124.8,733.2 127.3,734.0 129.7,734.8 132.1,734.8 135.0,734.0 138.5,728.8 141.3,727.9 144.2,729.3 147.1,730.8 150.0,728.4 153.4,725.5 156.7,722.1 159.6,719.2 161.1,715.4 163.5,714.4 165.4,710.6 166.8,703.8 168.3,700.0 172.4,696.2 175.2,689.3 178.0,669.9 180.7,651.9 183.5,635.3 186.3,618.7 187.7,611.8 190.4,609.0 193.9,606.5 197.3,602.0 200.5,598.4 203.5,595.8 207.9,593.2 212.2,591.5 217.4,590.6 222.0,590.0 224.7,589.4 228.6,587.1 231.7,590.2 235.6,587.9 241.8,588.6 247.2,588.6 251.9,586.3 258.9,587.1 266.7,587.1 274.4,587.9 282.2,587.1 286.9,588.6 291.5,587.1 296.2,587.9 301.2,589.4 308.2,587.9 313.7,591.0 318.3,594.1 323.8,598.0 325.4,598.8 329.7,604.0 332.3,603.2 334.9,612.7 337.5,616.1 340.9,619.6 343.5,633.4 346.1,650.7 348.7,671.5 351.0,690.0 352.8,699.4 355.5,706.3 358.3,709.1 361.1,717.4 364.5,726.4 369.4,729.2 374.2,732.6 379.0,736.8 383.2,743.5 385.6,739.5 387.9,734.9 390.7,737.2 394.8,735.5 397.3,739.9 399.6,742.2 401.9,734.1 403.6,720.3 405.9,697.3 408.5,680.0 410.5,655.0 411.8,640.0 413.0,630.0 415.0,625.5 420.0,624.5 426.0,624.2 428.3,627.0 429.6,640.0 430.8,655.0 432.3,668.0 433.6,680.0 435.0,695.0 436.5,705.0 437.8,711.5 439.1,724.4 441.0,721.6 443.3,717.0 446.1,712.4 448.8,709.6 452.0,706.0 454.8,703.2 456.7,705.0 458.0,708.7 460.3,707.8 462.6,709.6 465.4,712.4" fill="none" stroke="#529c5e" stroke-width="2.4" stroke-linejoin="round" stroke-linecap="round"/>
<path d="M369.9 455.9H406.6" stroke="#2a2a2a" stroke-width="2.4"/>
<text x="413.5" y="462.5" font-family="Liberation Serif, Times New Roman, serif" font-size="17.1" fill="#111" stroke="#111" stroke-width="0.25">Intact</text>
<path d="M369.9 477.5H406.6" stroke="#bf2d3c" stroke-width="2.4"/>
<text x="413.5" y="484.1" font-family="Liberation Serif, Times New Roman, serif" font-size="17.1" fill="#111" stroke="#111" stroke-width="0.25">Filling deletion</text>
<path d="M369.9 499.2H406.6" stroke="#3559d4" stroke-width="2.4"/>
<text x="413.5" y="505.8" font-family="Liberation Serif, Times New Roman, serif" font-size="17.1" fill="#111" stroke="#111" stroke-width="0.25">Containing gap</text>
<path d="M369.9 520.8H406.6" stroke="#529c5e" stroke-width="2.4"/>
<text x="413.5" y="527.4" font-family="Liberation Serif, Times New Roman, serif" font-size="17.1" fill="#111" stroke="#111" stroke-width="0.25">Bottom cavity</text>
</svg>
</body></html>
